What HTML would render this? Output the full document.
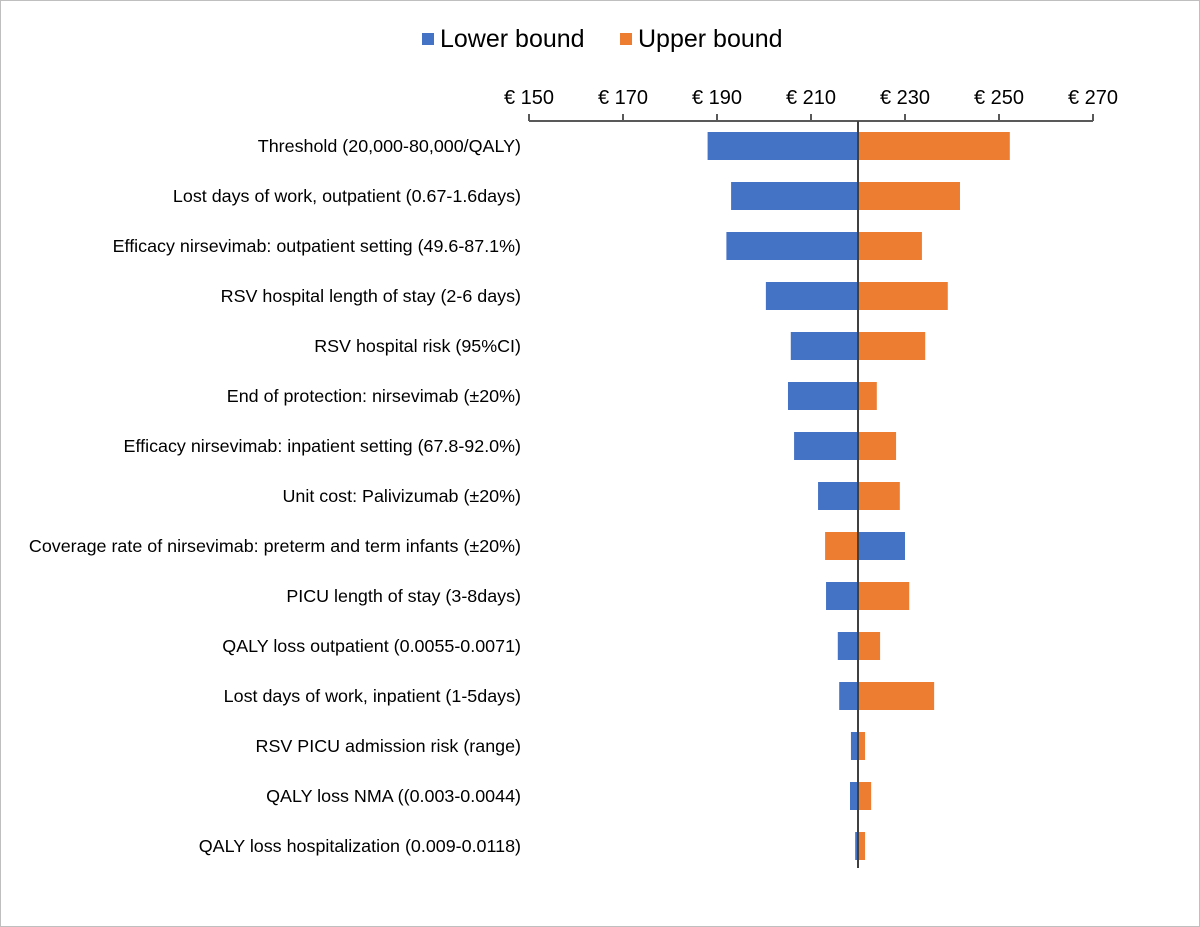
<!DOCTYPE html>
<html><head><meta charset="utf-8"><style>
body{margin:0;background:#fff}
svg{display:block;font-family:"Liberation Sans",Arial,sans-serif}
</style></head><body>
<svg id="chart" width="1200" height="927">
<rect x="0.5" y="0.5" width="1199" height="926" fill="#fff" stroke="#bfbfbf"/>
<g>
<rect x="422" y="33" width="12" height="12" fill="#4472c4"/>
<text x="440" y="47" font-size="25" fill="#000">Lower bound</text>
<rect x="620" y="33" width="12" height="12" fill="#ed7d31"/>
<text x="638" y="47" font-size="25" fill="#000">Upper bound</text>
</g>
<g id="axis"></g>
<g id="bars"></g>
<g id="labels"></g>
</svg>
<script>
const categories=["Threshold (20,000-80,000/QALY)","Lost days of work, outpatient (0.67-1.6days)","Efficacy nirsevimab: outpatient setting (49.6-87.1%)","RSV hospital length of stay (2-6 days)","RSV hospital risk (95%CI)","End of protection: nirsevimab (\u00b120%)","Efficacy nirsevimab: inpatient setting (67.8-92.0%)","Unit cost: Palivizumab (\u00b120%)","Coverage rate of nirsevimab: preterm and term infants (\u00b120%)","PICU length of stay (3-8days)","QALY loss outpatient (0.0055-0.0071)","Lost days of work, inpatient (1-5days)","RSV PICU admission risk (range)","QALY loss NMA ((0.003-0.0044)","QALY loss hospitalization (0.009-0.0118)"];
const lowerValues=[188,193,192,200.4,205.7,205.1,206.4,211.5,230,213.2,215.7,216,218.5,218.3,219.4];
const upperValues=[252.3,241.7,233.6,239.1,234.3,224,228.1,228.9,213,230.9,224.7,236.2,221.5,222.8,221.5];
const baseValue=220;
const ticks=[150,170,190,210,230,250,270];
const tickLabels=["€ 150","€ 170","€ 190","€ 210","€ 230","€ 250","€ 270"];
const NS="http://www.w3.org/2000/svg";
const x=v=>529+(v-150)*4.7;
const yc=i=>146+i*50;
function mk(t,a,p){const e=document.createElementNS(NS,t);for(const k in a)e.setAttribute(k,a[k]);p.appendChild(e);return e;}
const ax=document.getElementById('axis'),bg=document.getElementById('bars'),lg=document.getElementById('labels');
const al=mk('line',{x1:x(150),x2:x(270),y1:121,y2:121,stroke:'#595959','stroke-width':2},ax);


ticks.forEach((t,i)=>{
 const l=mk('line',{x1:x(t),x2:x(t),y1:114,y2:121,stroke:'#595959','stroke-width':2},ax);
 
 
 const tx=mk('text',{x:x(t),y:104,'font-size':20,'text-anchor':'middle',fill:'#000'},ax);
 tx.textContent=tickLabels[i];
 
 
});
categories.forEach((c,i)=>{
 [[lowerValues[i],'#4472c4','bar-lower'],[upperValues[i],'#ed7d31','bar-upper']].forEach(([v,col,n])=>{
  const x0=Math.min(x(v),x(baseValue)),w=Math.abs(x(v)-x(baseValue));
  const r=mk('rect',{x:x0,y:yc(i)-14,width:w,height:28,fill:col},bg);
  
  
 });
 const t=mk('text',{x:521,y:yc(i)+6,'font-size':17.9,'text-anchor':'end',fill:'#000'},lg);
 t.textContent=c;
 
 
});
const bl=mk('line',{x1:x(baseValue),x2:x(baseValue),y1:121,y2:868,stroke:'#404040','stroke-width':2},bg);


</script>
</body></html>
